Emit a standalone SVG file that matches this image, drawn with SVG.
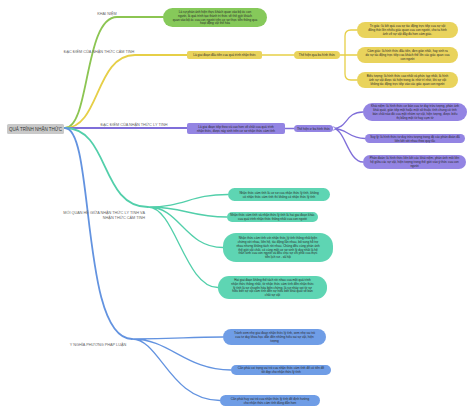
<svg xmlns="http://www.w3.org/2000/svg" width="474" height="415" viewBox="0 0 474 415">
<style>
text{font-family:"Liberation Sans",Arial,sans-serif;}
.lbl{font-size:3.8px;fill:#666;}
.t{font-size:3.1px;fill:#2a2a2a;text-anchor:middle;}
.root{font-size:4.5px;fill:#333;text-anchor:middle;}
.c{fill:none;stroke-linecap:round;}
.m{stroke-width:1.8;}
.s{stroke-width:1.3;}
.g{stroke:#8cc552;}
.y{stroke:#e6cf47;}
.p{stroke:#7f6ed9;}
.tl{stroke:#52cfaa;}
.b{stroke:#6393e0;}
.fg{fill:#86c95a;}
.fy{fill:#e9d35c;}
.fp{fill:#9384e3;}
.ft{fill:#5ed5b3;}
.fb{fill:#6f9de6;}
</style>
<rect width="474" height="415" fill="#ffffff"/>
<g id="connectors">
<path class="c m g" d="M65,128 C90,128 84,17 117,17 H163"/>
<path class="c m y" d="M65,128 C100,128 95,55 135,55 H187"/>
<path class="c s y" d="M262,55 H294"/>
<path class="c s y" d="M340,55 H357 M345,55 V36 Q345,30 351,30 H357 M345,55 V74 Q345,80 351,80 H357"/>
<path class="c m p" d="M65,128 H187"/>
<path class="c s p" d="M285,128.5 H294"/>
<path class="c s p" d="M333,128.5 C348,128.5 345,112 363,112 M333,128.5 C348,128.5 348,138.5 365,138.5 M333,128.5 C345,128.5 348,162 363,162"/>
<circle cx="333.5" cy="128.5" r="1.6" fill="#fff" stroke="#7f6ed9" stroke-width="0.8"/>
<path class="c m tl" d="M65,128 C110,128 100,207 148,207"/>
<path class="c s tl" d="M148,207 C185,207 190,194.5 228,194.5 M148,207 C185,207 190,217 227,217 M148,207 C180,207 185,247.5 223,247.5 M148,207 C175,207 185,287.5 218,287.5"/>
<path class="c m b" d="M65,128 C95,128 80,339 132,339"/>
<path class="c s b" d="M132,339 C180,339 185,337 223,337 M132,339 C170,339 185,370 231,370 M132,339 C160,339 170,400.5 220,400.5"/>
</g>
<g id="root">
<rect x="7" y="124" width="57" height="10" rx="1.5" fill="#c9c9c9"/>
<text class="root" x="35.5" y="130.6">QUÁ TRÌNH NHẬN THỨC</text>
</g>
<g id="lbl-khainiem"><text class="lbl" x="107" y="14.5" text-anchor="middle">KHÁI NIỆM</text></g>
<g id="lbl-camtinh"><text class="lbl" x="99" y="52.5" text-anchor="middle">ĐẶC ĐIỂM CỦA NHẬN THỨC CẢM TÍNH</text></g>
<g id="lbl-lytinh"><text class="lbl" x="134" y="125.5" text-anchor="middle">ĐẶC ĐIỂM CỦA NHẬN THỨC LÝ TÍNH</text></g>
<g id="lbl-quanhe"><text class="lbl" x="145" y="213.5" text-anchor="end">MỐI QUAN HỆ GIỮA NHẬN THỨC LÝ TÍNH VÀ</text><text class="lbl" x="145" y="218.5" text-anchor="end">NHẬN THỨC CẢM TÍNH</text></g>
<g id="lbl-ynghia"><text class="lbl" x="98" y="345.5" text-anchor="middle">Ý NGHĨA PHƯƠNG PHÁP LUẬN</text></g>
<g id="n-khainiem">
<rect class="fg" x="163" y="8" width="104" height="19" rx="9.5"/>
<text class="t" x="215" y="12.9"><tspan x="215">Là sự phản ánh hiện thực khách quan vào bộ óc con</tspan><tspan x="215" dy="3.8">người, là quá trình tạo thành tri thức về thế giới khách</tspan><tspan x="215" dy="3.8">quan vào bộ óc của con người trên cơ sở thực tiễn thông qua</tspan><tspan x="215" dy="3.8">hoạt động vật thể hóa</tspan></text>
</g>
<g id="n-ct1">
<rect class="fy" x="187" y="51" width="75" height="8" rx="2"/>
<text class="t" x="224.5" y="56.1">Là giai đoạn đầu tiên của quá trình nhận thức</text>
</g>
<g id="n-ct2">
<rect class="fy" x="294" y="51" width="46" height="8" rx="4"/>
<text class="t" x="317" y="56.1">Thể hiện qua ba hình thức</text>
</g>
<g id="n-trigiac">
<rect class="fy" x="357" y="22" width="101" height="16" rx="8"/>
<text class="t" x="407.5" y="27.3"><tspan x="407.5">Tri giác: là kết quả của sự tác động trực tiếp của sự vật</tspan><tspan x="407.5" dy="3.8">đồng thời lên nhiều giác quan của con người, cho ta hình</tspan><tspan x="407.5" dy="3.8">ảnh về sự vật đầy đủ hơn cảm giác.</tspan></text>
</g>
<g id="n-camgiac">
<rect class="fy" x="357" y="47" width="101" height="16" rx="8"/>
<text class="t" x="407.5" y="52.3"><tspan x="407.5">Cảm giác: là hình thức đầu tiên, đơn giản nhất, hay sinh ra</tspan><tspan x="407.5" dy="3.8">do sự tác động trực tiếp của khách thể lên các giác quan của</tspan><tspan x="407.5" dy="3.8">con người</tspan></text>
</g>
<g id="n-bieutuong">
<rect class="fy" x="357" y="72" width="101" height="16" rx="8"/>
<text class="t" x="407.5" y="77.3"><tspan x="407.5">Biểu tượng: là hình thức cao nhất và phức tạp nhất, là hình</tspan><tspan x="407.5" dy="3.8">ảnh sự vật được tái hiện trong óc nhờ trí nhớ, khi sự vật</tspan><tspan x="407.5" dy="3.8">không tác động trực tiếp vào các giác quan con người</tspan></text>
</g>
<g id="n-lt1">
<rect class="fp" x="187" y="123" width="98" height="11" rx="2"/>
<text class="t" x="236" y="127.7"><tspan x="236">Là giai đoạn tiếp theo và cao hơn về chất của quá trình</tspan><tspan x="236" dy="3.8">nhận thức, được nảy sinh trên cơ sở nhận thức cảm tính</tspan></text>
</g>
<g id="n-lt2">
<rect class="fp" x="294" y="125" width="39" height="7" rx="3.5"/>
<text class="t" x="313.5" y="129.6">Thể hiện ở ba hình thức</text>
</g>
<g id="n-khainiem2">
<rect class="fp" x="363" y="103" width="104" height="18" rx="9"/>
<text class="t" x="415" y="107.4"><tspan x="415">Khái niệm: là hình thức cơ bản của tư duy trừu tượng, phản ánh</tspan><tspan x="415" dy="3.8">khái quát, gián tiếp một hoặc một số thuộc tính chung có tính</tspan><tspan x="415" dy="3.8">bản chất nào đó của một nhóm sự vật, hiện tượng, được biểu</tspan><tspan x="415" dy="3.8">thị bằng một từ hay cụm từ</tspan></text>
</g>
<g id="n-suyly">
<rect class="fp" x="365" y="134" width="100" height="9" rx="4.5"/>
<text class="t" x="415" y="137.7"><tspan x="415">Suy lý: là hình thức tư duy trừu tượng trong đó các phán đoán đã</tspan><tspan x="415" dy="3.8">liên kết với nhau theo quy tắc</tspan></text>
</g>
<g id="n-phandoan">
<rect class="fp" x="363" y="155" width="103" height="14" rx="7"/>
<text class="t" x="414.5" y="159.3"><tspan x="414.5">Phán đoán: là hình thức liên kết các khái niệm, phản ánh mối liên</tspan><tspan x="414.5" dy="3.8">hệ giữa các sự vật, hiện tượng trong thế giới vào ý thức của con</tspan><tspan x="414.5" dy="3.8">người</tspan></text>
</g>
<g id="n-qh1">
<rect class="ft" x="228" y="188" width="102" height="13" rx="6.5"/>
<text class="t" x="279" y="193.7"><tspan x="279">Nhận thức cảm tính là cơ sở của nhận thức lý tính, không</tspan><tspan x="279" dy="3.8">có nhận thức cảm tính thì không có nhận thức lý tính</tspan></text>
</g>
<g id="n-qh2">
<rect class="ft" x="227" y="212" width="91" height="10" rx="5"/>
<text class="t" x="272.5" y="216.2"><tspan x="272.5">Nhận thức cảm tính và nhận thức lý tính là hai giai đoạn khác</tspan><tspan x="272.5" dy="3.8">của quá trình nhận thức thống nhất của con người</tspan></text>
</g>
<g id="n-qh3">
<rect class="ft" x="223" y="233" width="110" height="29" rx="13"/>
<text class="t" x="278" y="239.1"><tspan x="278">Nhận thức cảm tính với nhận thức lý tính thống nhất biện</tspan><tspan x="278" dy="3.8">chứng với nhau, liên hệ, tác động lẫn nhau, bổ sung hỗ trợ</tspan><tspan x="278" dy="3.8">nhau nhưng không tách rời nhau. Chúng đều cùng phản ánh</tspan><tspan x="278" dy="3.8">thế giới vật chất, có cùng một cơ sở sinh lý duy nhất là hệ</tspan><tspan x="278" dy="3.8">thần kinh của con người và đều chịu sự chi phối của thực</tspan><tspan x="278" dy="3.8">tiễn lịch sử - xã hội</tspan></text>
</g>
<g id="n-qh4">
<rect class="ft" x="218" y="276" width="109" height="23" rx="11"/>
<text class="t" x="272.5" y="281"><tspan x="272.5">Hai giai đoạn không thể tách rời nhau của một quá trình</tspan><tspan x="272.5" dy="3.8">nhận thức thống nhất, từ nhận thức cảm tính đến nhận thức</tspan><tspan x="272.5" dy="3.8">lý tính là sự chuyển hóa biện chứng, là sự nhảy vọt từ sự</tspan><tspan x="272.5" dy="3.8">hiểu biết sự vật cảm tính đến sự hiểu biết khái quát về bản</tspan><tspan x="272.5" dy="3.8">chất sự vật</tspan></text>
</g>
<g id="n-yn1">
<rect class="fb" x="223" y="329" width="103" height="16" rx="8"/>
<text class="t" x="274.5" y="334.3"><tspan x="274.5">Tránh xem nhẹ giai đoạn nhận thức lý tính, xem nhẹ vai trò</tspan><tspan x="274.5" dy="3.8">của tư duy khoa học dẫn đến những hiểu sai sự vật, hiện</tspan><tspan x="274.5" dy="3.8">tượng</tspan></text>
</g>
<g id="n-yn2">
<rect class="fb" x="231" y="365" width="100" height="10" rx="5"/>
<text class="t" x="281" y="369.2"><tspan x="281">Cần phải coi trọng vai trò của nhận thức cảm tính để có tiền đề</tspan><tspan x="281" dy="3.8">tốt đẹp cho nhận thức lý tính</tspan></text>
</g>
<g id="n-yn3">
<rect class="fb" x="220" y="395" width="100" height="11" rx="5.5"/>
<text class="t" x="270" y="399.7"><tspan x="270">Cần phát huy vai trò của nhận thức lý tính để định hướng</tspan><tspan x="270" dy="3.8">cho nhận thức cảm tính đúng đắn hơn</tspan></text>
</g>
</svg>
